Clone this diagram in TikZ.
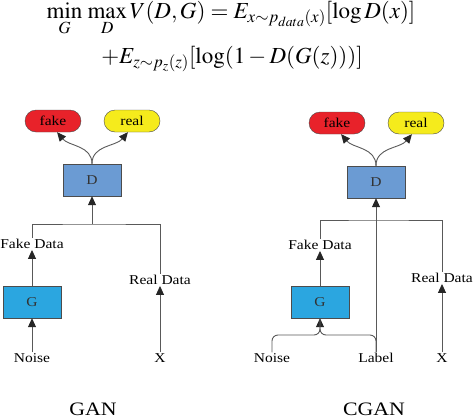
\documentclass[tikz,border=0pt]{standalone}
\usepackage{mathptmx}
\usepackage[no-math]{fontspec}
\setmainfont{Liberation Serif}[FakeStretch=1.15]
\usetikzlibrary{arrows.meta}
\definecolor{fakered}{HTML}{E8222A}
\definecolor{realyellow}{HTML}{F5EB1C}
\definecolor{dblue}{HTML}{6B9BD3}
\definecolor{gblue}{HTML}{2BA6E0}
\begin{document}
\begin{tikzpicture}[x=1pt,y=1pt,
    box/.style={draw=black!70,minimum width=58pt,minimum height=32pt,inner sep=0pt,text=black!80,font=\fontsize{13.5}{16}\selectfont},
    pill/.style={draw=black!70,rounded corners=11pt,minimum width=56pt,minimum height=22pt,inner sep=0pt,font=\fontsize{13.5}{16}\selectfont},
    lbl/.style={inner sep=1pt,font=\fontsize{13.5}{16}\selectfont},
    title/.style={inner sep=0pt,anchor=base,font=\fontsize{19}{21}\selectfont},
    link/.style={draw=black!65,line width=0.9pt},
    arr/.style={link,-{Triangle[length=9pt,width=8pt,color=black!85]}}]
    \useasboundingbox (0,0) rectangle (474,-418);
    % objective
    \node[anchor=base,inner sep=0pt,font=\fontsize{23}{27}\selectfont] (loss1) at (231,-18)
      {$\min\limits_G\,\max\limits_D V(D,G) = E_{x\sim p_{data}(x)}[\log D(x)]$};
    \node[anchor=base,inner sep=0pt,font=\fontsize{23}{27}\selectfont] (loss2) at (232,-63)
      {$+E_{z\sim p_z(z)}[\log(1-D(G(z)))]$};
    % GAN
    \node[pill,fill=fakered] (fake) at (53,-121) {fake};
    \node[pill,fill=realyellow] (real) at (132,-121) {real};
    \node[box,fill=dblue] (D) at (92,-180) {D};
    \node[lbl] (fdata) at (32,-244) {Fake Data};
    \node[box,fill=gblue] (G) at (32,-302) {G};
    \node[lbl] (noise) at (32,-358) {Noise};
    \node[lbl] (rdata) at (160,-280) {Real Data};
    \node[lbl] (x) at (160,-358) {X};
    \coordinate (j) at (92,-224);
    \draw[link] (fdata.north) |- (j) -| (rdata.north);
    \draw[arr] (j) -- (D.south);
    \draw[arr] (G.north) -- (fdata.south);
    \draw[arr] (noise.north) -- (G.south);
    \draw[arr] (x.north) -- (rdata.south);
    \draw[arr] (D.north) to[out=90,in=-50] (fake.-70);
    \draw[arr] (D.north) to[out=90,in=-130] (real.-110);
    \node[title] (gan) at (93,-415) {GAN};
    % CGAN
    \node[pill,fill=fakered] (cfake) at (337,-123) {fake};
    \node[pill,fill=realyellow] (creal) at (416,-123) {real};
    \node[box,fill=dblue] (cD) at (376,-182) {D};
    \node[lbl] (cfdata) at (320,-245) {Fake Data};
    \node[box,fill=gblue] (cG) at (320,-302) {G};
    \node[lbl] (cnoise) at (272,-358) {Noise};
    \node[lbl] (clabel) at (376,-358) {Label};
    \node[lbl] (crdata) at (442,-278) {Real Data};
    \node[lbl] (cx) at (442,-358) {X};
    \coordinate (cj) at (376,-220);
    \coordinate (cm) at (320,-335);
    \draw[link] (cfdata.north) |- (cj) -| (crdata.north);
    \draw[arr] (clabel.north) -- (cD.south);
    \draw[arr] (cG.north) -- (cfdata.south);
    \draw[arr,rounded corners=6pt] (cnoise.north) |- (cm) -- (cG.south);
    \draw[link,rounded corners=6pt] (clabel.north) |- (cm) -- (cG.south);
    \draw[arr] (cx.north) -- (crdata.south);
    \draw[arr] (cD.north) to[out=90,in=-50] (cfake.-70);
    \draw[arr] (cD.north) to[out=90,in=-130] (creal.-110);
    \node[title] (cgan) at (374,-415) {CGAN};
\end{tikzpicture}
\end{document}
